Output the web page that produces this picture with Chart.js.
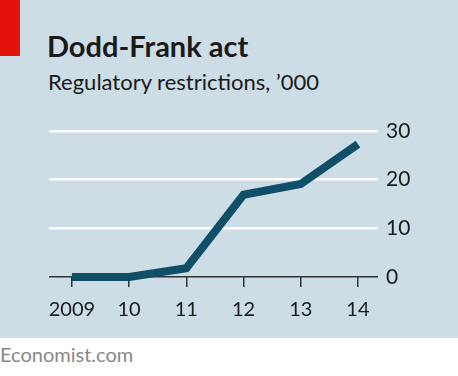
<!DOCTYPE html>
<html>
<head>
<meta charset="utf-8">
<script src="https://cdn.jsdelivr.net/npm/chart.js@4"></script>
<style>
  body { margin: 0; background: #ffffff; }
  #wrap { position: relative; width: 458px; height: 376px; font-family: Lato, sans-serif; }
  #panel { position: absolute; left: 0; top: 0; width: 458px; height: 338px; background: #cddde6; }
  #tab { position: absolute; left: 0; top: 0; width: 20px; height: 56px; background: #e3120b; }
  #title { position: absolute; left: 47px; top: 28px; font-size: 29px; font-weight: bold; color: #1a1a1a; white-space: nowrap; }
  #subtitle { position: absolute; left: 48px; top: 68px; font-size: 22px; color: #1a1a1a; white-space: nowrap; }
  #source { position: absolute; left: 0; top: 342px; font-size: 20px; color: #888888; white-space: nowrap; }
  #chart { position: absolute; left: 0; top: 0; }
</style>
</head>
<body>
<div id="wrap">
  <div id="panel"></div>
  <div id="tab"></div>
  <div id="title">Dodd-Frank act</div>
  <div id="subtitle">Regulatory restrictions, ’000</div>
  <div id="source">Economist.com</div>
  <canvas id="chart" width="458" height="376"></canvas>
</div>
<script>
// Data
const years = [2009, 2010, 2011, 2012, 2013, 2014];
const restrictions = [0, 0, 1.8, 16.9, 19.1, 27.3];
const yTicks = [0, 10, 20, 30];

const lineColor = "#0f5068";

document.addEventListener("DOMContentLoaded", function () {
    const ctx = document.getElementById("chart").getContext("2d");

    new Chart(ctx, {
        type: "line",
        data: {
            datasets: [{
                data: years.map((y, i) => ({ x: y, y: restrictions[i] })),
                borderColor: lineColor,
                borderWidth: 8,
                tension: 0,
                pointRadius: 0,
                borderCapStyle: "butt",
                borderJoinStyle: "miter",
                fill: false,
                clip: false,
            }],
        },
        options: {
            responsive: false,
            animation: false,
            events: [],
            layout: {
                padding: { left: 49, top: 131, right: 0, bottom: 0 },
            },
            plugins: {
                legend: { display: false },
                tooltip: { enabled: false },
            },
            scales: {
                x: {
                    type: "linear",
                    min: 2008.6,
                    max: 2014.35,
                    afterBuildTicks: function (scale) {
                        scale.ticks = years.map(v => ({ value: v }));
                    },
                    afterFit: function (scale) {
                        scale.height = 376 - 277;
                    },
                    border: { display: false },
                    grid: {
                        drawOnChartArea: false,
                        drawTicks: true,
                        tickLength: 10,
                        color: "#333333",
                        lineWidth: 1.5,
                    },
                    ticks: {
                        padding: 11,
                        maxRotation: 0,
                        color: "#1a1a1a",
                        font: { family: "Lato", size: 20 },
                        callback: function (v) {
                            return v === 2009 ? "2009" : String(v).slice(2);
                        },
                    },
                },
                y: {
                    position: "right",
                    min: 0,
                    max: 30,
                    afterBuildTicks: function (scale) {
                        scale.ticks = yTicks.map(v => ({ value: v }));
                    },
                    afterFit: function (scale) {
                        scale.width = 80;
                    },
                    border: { display: false },
                    grid: {
                        drawTicks: false,
                        color: c => c.tick && c.tick.value === 0 ? "#333333" : "#ffffff",
                        lineWidth: c => c.tick && c.tick.value === 0 ? 1.5 : 2.5,
                    },
                    ticks: {
                        padding: 8,
                        crossAlign: "near",
                        color: "#1a1a1a",
                        font: { family: "Lato", size: 21 },
                    },
                },
            },
        },
    });
});
</script>
</body>
</html>
